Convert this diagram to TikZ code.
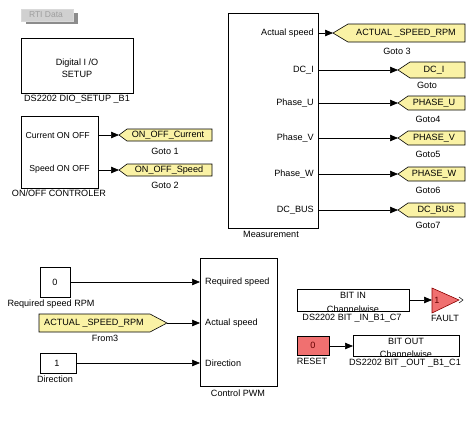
\documentclass[tikz,border=0pt]{standalone}
\usepackage{fontspec}
\setmainfont{Liberation Sans}
\usetikzlibrary{arrows.meta}
\definecolor{tagfill}{RGB}{250,242,165}
\definecolor{redfill}{RGB}{240,112,112}
\definecolor{rtigray}{RGB}{208,208,208}
\definecolor{rtishadow}{RGB}{140,140,140}

\begin{document}
\begin{tikzpicture}[x=1pt,y=-1pt,
  every node/.style={font=\fontsize{9.1}{10}\selectfont, inner sep=0pt},
  blk/.style={draw, line width=0.7pt},
  tag/.style={draw, fill=tagfill, line width=0.6pt},
  wire/.style={line width=0.6pt, -{Triangle[length=8pt,width=6.5pt]}},
  blklabel/.style={anchor=north},
  port/.style={anchor=east}]
\useasboundingbox (0,0) rectangle (474,424);

% RTI Data
\fill[rtishadow] (26,13) rectangle (78,24);
\filldraw[fill=rtigray, draw=white!85!black] (21,9) rectangle (73,21);
\node[text=white!62!black, font=\fontsize{8.5}{9}\selectfont] (rti) at (46,15) {RTI Data};

% Digital I/O setup
\draw[blk] (21,38) rectangle (133,93);
\node[align=center] (dio) at (77,68) {Digital I /O\\[2.5pt]SETUP};
\node[blklabel] (diocap) at (77,95) {DS2202 DIO\_SETUP \_B1};

% ON/OFF controler
\draw[blk] (21,116) rectangle (98,188);
\node[port, font=\fontsize{8.7}{10}\selectfont] (cur) at (90,135) {Current ON OFF};
\node[port, font=\fontsize{8.7}{10}\selectfont] (spd) at (90,169) {Speed ON OFF};
\node[blklabel] (oocap) at (59,190) {ON/OFF CONTROLER};

\filldraw[tag] (119,135) -- (127,129) -- (212,129) -- (212,141) -- (127,141) -- cycle;
\node (g1) at (168,135) {ON\_OFF\_Current};
\node[blklabel] at (165,148) {Goto 1};
\filldraw[tag] (119,170) -- (127,164) -- (212,164) -- (212,176) -- (127,176) -- cycle;
\node (g2) at (169,170) {ON\_OFF\_Speed};
\node[blklabel] at (165,182) {Goto 2};
\coordinate (g1tip) at (119,135);
\coordinate (g2tip) at (119,170);
\draw[wire] (98,135) -- (g1tip);
\draw[wire] (98,170) -- (g2tip);

% Measurement
\draw[blk] (228,13) rectangle (318,228);
\node[port] (as) at (314,33) {Actual speed};
\node[port] (dci) at (314,70) {DC\_I};
\node[port] (pu) at (314,103) {Phase\_U};
\node[port] (pv) at (314,138) {Phase\_V};
\node[port] (pw) at (314,174) {Phase\_W};
\node[port] (dcb) at (314,210) {DC\_BUS};
\node[blklabel] (mcap) at (271,231) {Measurement};

\filldraw[tag] (333,33) -- (348,24) -- (465,24) -- (465,42) -- (348,42) -- cycle;
\node (g3) at (406,33) {ACTUAL \_SPEED\_RPM};
\node[blklabel] at (397,48) {Goto 3};
\coordinate (g3tip) at (333,33);
\draw[wire] (318,33) -- (g3tip);

\filldraw[tag] (398,70) -- (410,62) -- (465,62) -- (465,78) -- (410,78) -- cycle;
\node (g0) at (434,70) {DC\_I};
\node[blklabel] at (427,82) {Goto};
\filldraw[tag] (398,103) -- (408,96) -- (465,96) -- (465,110) -- (408,110) -- cycle;
\node (g4) at (434,103) {PHASE\_U};
\node[blklabel] at (428,116) {Goto4};
\filldraw[tag] (398,138) -- (408,131) -- (465,131) -- (465,145) -- (408,145) -- cycle;
\node (g5) at (434,138) {PHASE\_V};
\node[blklabel] at (428,151) {Goto5};
\filldraw[tag] (398,174) -- (408,167) -- (465,167) -- (465,181) -- (408,181) -- cycle;
\node (g6) at (434,174) {PHASE\_W};
\node[blklabel] at (428,187) {Goto6};
\filldraw[tag] (398,210) -- (408,203) -- (465,203) -- (465,217) -- (408,217) -- cycle;
\node (g7) at (436,210) {DC\_BUS};
\node[blklabel] at (428,222) {Goto7};
\coordinate (g0tip) at (398,70);
\coordinate (g4tip) at (398,103);
\coordinate (g5tip) at (398,138);
\coordinate (g6tip) at (398,174);
\coordinate (g7tip) at (398,210);
\draw[wire] (318,70) -- (g0tip);
\draw[wire] (318,103) -- (g4tip);
\draw[wire] (318,138) -- (g5tip);
\draw[wire] (318,174) -- (g6tip);
\draw[wire] (318,210) -- (g7tip);

% Control PWM
\draw[blk] (200,258) rectangle (277,386);
\node[anchor=west] (rs) at (205,282) {Required speed};
\node[anchor=west] (acs) at (205,323) {Actual speed};
\node[anchor=west] (dir) at (205,363) {Direction};
\node[blklabel] (pwmcap) at (238,390) {Control PWM};

\draw[blk] (40,267) rectangle (70,297);
\node (c0) at (55,282) {0};
\node[blklabel] at (51,300) {Required speed RPM};
\filldraw[tag] (39,314) -- (150,314) -- (167,323) -- (150,332) -- (39,332) -- cycle;
\node (f3) at (94,323) {ACTUAL \_SPEED\_RPM};
\node[blklabel] at (105,335) {From3};
\draw[blk] (40,353) rectangle (76,373);
\node (c1) at (57,363) {1};
\node[blklabel] at (55,376) {Direction};
\coordinate (rsin) at (200,282);
\coordinate (asin) at (200,323);
\coordinate (dirin) at (200,363);
\draw[wire] (70,282) -- (rsin);
\draw[wire] (167,323) -- (asin);
\draw[wire] (76,363) -- (dirin);

% BIT IN / FAULT
\draw[blk] (297,289) rectangle (409,311);
\node (bin) at (353,295) {BIT IN};
\begin{scope}
\clip (297,289) rectangle (409,311);
\node at (353,309) {Channelwise};
\end{scope}
\node[blklabel] at (352,314) {DS2202 BIT \_IN\_B1\_C7};
\filldraw[fill=redfill, draw=red!55!black, line width=0.6pt] (432,288) -- (459,300) -- (432,313) -- cycle;
\node[text=red!40!black] (fault) at (437,300) {1};
\draw[line width=0.5pt] (459,297) -- (463,300) -- (459,303);
\node[blklabel] at (445,315) {FAULT};
\coordinate (fin) at (432,300);
\draw[wire] (409,300) -- (fin);

% RESET / BIT OUT
\filldraw[fill=redfill, draw=black, line width=0.6pt] (297,336) rectangle (329,355);
\node[text=red!40!black] (reset) at (313,345) {0};
\node[blklabel] at (312,358) {RESET};
\draw[blk] (353,335) rectangle (459,356);
\node (bout) at (406,341) {BIT OUT};
\begin{scope}
\clip (353,335) rectangle (459,356);
\node at (406,354) {Channelwise};
\end{scope}
\node[blklabel] at (405,359) {DS2202 BIT \_OUT \_B1\_C1};
\coordinate (boin) at (353,346);
\draw[wire] (329,346) -- (boin);
\end{tikzpicture}
\end{document}
